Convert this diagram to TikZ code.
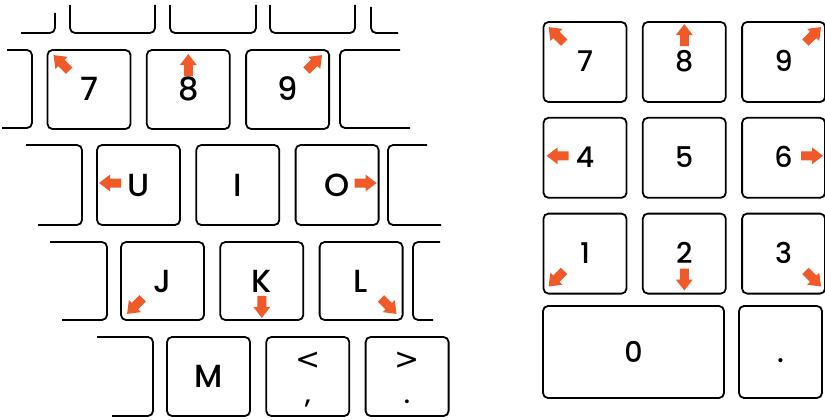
\documentclass[tikz,border=0pt]{standalone}
\usepackage{fontspec}
\setmainfont{Poppins Medium}
\newfontfamily\anglefont{DejaVu Sans}
\usetikzlibrary{positioning}
\definecolor{keyorange}{RGB}{240,90,40}

\begin{document}
\begin{tikzpicture}[
    x=1pt, y=-1pt,
    node distance=14.5pt,
    key/.style={
        draw, line width=1.8pt, rounded corners=5pt,
        minimum width=83pt, minimum height=79pt,
        inner sep=0pt,
        font=\fontsize{32}{38}\selectfont,
        text height=22.5pt, text depth=0pt
    },
    padkey/.style={
        key, minimum height=80pt,
        font=\fontsize{28.5}{34}\selectfont,
        text height=20pt
    },
    cut key/.style={line width=1.8pt, rounded corners=5pt},
    keytext/.style={inner sep=0pt, font=\fontsize{26}{30}\selectfont,
        text height=8pt, text depth=2pt},
    angletext/.style={inner sep=0pt, font=\anglefont\fontsize{30}{34}\selectfont,
        text height=20pt, text depth=0pt},
    dirarrow/.pic={
        \fill[keyorange] (0,0) -- (-11,-8.5) -- (-11,-4.5) -- (-22,-4.5)
            -- (-22,4.5) -- (-11,4.5) -- (-11,8.5) -- cycle;
    }
]
\useasboundingbox (0,0) rectangle (825,420);

% keyboard, cut off keys round the edge
\draw[cut key] (21,33) -- (55,33) -- (55,13);
\draw[cut key] (70,5) -- (70,33) -- (155,33) -- (155,5);
\draw[cut key] (170,5) -- (170,33) -- (256,33) -- (256,5);
\draw[cut key] (270,5) -- (270,33) -- (355,33) -- (355,5);
\draw[cut key] (371,7) -- (371,33) -- (398,33);
\draw[cut key] (7,50) -- (32,50) -- (32,128) -- (2,128);
\draw[cut key] (400,50) -- (340,50) -- (340,128) -- (410,128);
\draw[cut key] (26,145) -- (82,145) -- (82,225) -- (38,225);
\draw[cut key] (427,145) -- (388,145) -- (388,225) -- (441,225);
\draw[cut key] (50,242) -- (107,242) -- (107,320) -- (62,320);
\draw[cut key] (440,242) -- (413,242) -- (413,320) -- (433,320);
\draw[cut key] (97,337) -- (153,337) -- (153,416) -- (112,416);

% keyboard keys
\node[key] (k7) at (89,89.5) {7};
\node[key, right=of k7] (k8) {8};
\node[key, right=of k8] (k9) {9};
\node[key, minimum height=80pt] (kU) at (138.5,185) {U};
\node[key, minimum height=80pt, right=of kU] (kI) {I};
\node[key, minimum height=80pt, right=of kI] (kO) {O};
\node[key, minimum height=78pt] (kJ) at (162.5,281) {J};
\node[key, minimum height=78pt, right=of kJ] (kK) {K};
\node[key, minimum height=78pt, right=of kK] (kL) {L};
\node[key] (kM) at (208.5,376.5) {M};
\node[key, right=of kM] (kcomma) {};
\node[key, right=of kcomma] (kperiod) {};
\node[angletext] (lt) at ([yshift=17pt]kcomma.center) {<};
\node[keytext] (comma) at ([yshift=-24pt]kcomma.center) {,};
\node[angletext] (gt) at ([yshift=17pt]kperiod.center) {>};
\node[keytext] (period) at ([yshift=-24pt]kperiod.center) {.};

\pic[rotate=135] at ([shift={(7,6)}]k7.north west) {dirarrow};
\pic[rotate=90] at ([shift={(0,5)}]k8.north) {dirarrow};
\pic[rotate=45] at ([shift={(-8,6)}]k9.north east) {dirarrow};
\pic[rotate=180] at ([shift={(3,-2)}]kU.west) {dirarrow};
\pic at ([shift={(-3,-2)}]kO.east) {dirarrow};
\pic[rotate=225] at ([shift={(7,-7)}]kJ.south west) {dirarrow};
\pic[rotate=270] at ([shift={(0,-3)}]kK.south) {dirarrow};
\pic[rotate=315] at ([shift={(-7,-7)}]kL.south east) {dirarrow};

% number pad
\node[padkey] (n7) at (585,62) {7};
\node[padkey, right=of n7] (n8) {8};
\node[padkey, right=of n8] (n9) {9};
\node[padkey, below=14pt of n7] (n4) {4};
\node[padkey, right=of n4] (n5) {5};
\node[padkey, right=of n5] (n6) {6};
\node[padkey, below=14pt of n4] (n1) {1};
\node[padkey, right=of n1] (n2) {2};
\node[padkey, right=of n2] (n3) {3};
\node[padkey, minimum width=181pt, minimum height=92pt] (n0) at (633.5,352) {0};
\node[padkey, minimum height=92pt] (ndot) at (780.5,352) {.};

\pic[rotate=135] at ([shift={(6,6)}]n7.north west) {dirarrow};
\pic[rotate=90] at ([shift={(0,3)}]n8.north) {dirarrow};
\pic[rotate=45] at ([shift={(-5,6)}]n9.north east) {dirarrow};
\pic[rotate=180] at ([shift={(4,-2)}]n4.west) {dirarrow};
\pic at ([shift={(-3,-2)}]n6.east) {dirarrow};
\pic[rotate=225] at ([shift={(6,-8)}]n1.south west) {dirarrow};
\pic[rotate=270] at ([shift={(0,-4)}]n2.south) {dirarrow};
\pic[rotate=315] at ([shift={(-5,-8)}]n3.south east) {dirarrow};
\end{tikzpicture}
\end{document}
